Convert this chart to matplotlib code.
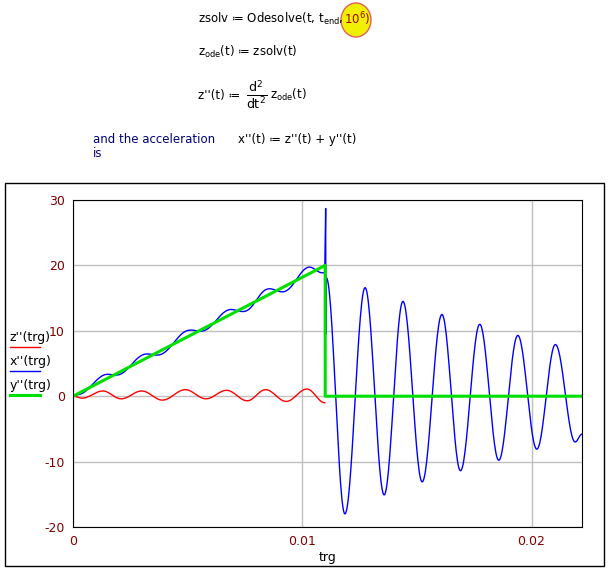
import numpy as np
import matplotlib.pyplot as plt
from matplotlib.patches import Rectangle, Ellipse

plt.rcParams["axes.unicode_minus"] = False

# --- values ---
# green y''(trg): ramp, drop, then zero
y_t = [0.0, 0.011, 0.011, 0.0222]
y_v = [0.0, 20.0, 0.0, 0.0]

# red z''(trg) extrema before the jump
z_t = [0.0, 0.0004, 0.0013, 0.0021, 0.0030, 0.0039, 0.0049, 0.0058,
       0.0067, 0.0076, 0.0084, 0.0093, 0.0102, 0.01098]
z_v = [0.0, -0.3, 0.8, -0.4, 0.8, -0.6, 1.0, -0.4, 0.9, -0.7, 1.0, -0.8, 1.1, -1.0]

# blue x''(trg) spike at the jump
spike_t = [0.01098, 0.01100, 0.01102, 0.01103, 0.01105]
spike_v = [19.0, 24.0, 28.7, 9.5, 18.1]

# blue x''(trg) extrema of the free oscillation
osc_t = [0.01105, 0.01186, 0.01274, 0.01357, 0.01439, 0.01523, 0.01609, 0.01690,
         0.01774, 0.01857, 0.01940, 0.02023, 0.02104, 0.02190, 0.0222]
osc_v = [18.1, -18.0, 16.6, -15.1, 14.5, -13.1, 12.5, -11.4,
         11.0, -9.8, 9.3, -8.1, 7.9, -7.0, -5.8]


def smooth(ts, vs, n=30):
    # half-cosine segments between the read extrema
    out_t, out_v = [], []
    for i in range(len(ts) - 1):
        s = np.linspace(0, 1, n, endpoint=False)
        out_t.extend(ts[i] + (ts[i + 1] - ts[i]) * s)
        out_v.extend(vs[i] + (vs[i + 1] - vs[i]) * (1 - np.cos(np.pi * s)) / 2)
    out_t.append(ts[-1]); out_v.append(vs[-1])
    return np.array(out_t), np.array(out_v)


zt, zv = smooth(z_t, z_v)
ramp = np.interp(zt, y_t[:2], y_v[:2])
ot, ov = smooth(osc_t, osc_v)
xt = np.concatenate([zt, spike_t, ot])
xv = np.concatenate([zv + ramp, spike_v, ov])

W, H = 608, 571
fig = plt.figure(figsize=(W / 100, H / 100), dpi=100)
px = lambda x: x / W
py = lambda y: 1 - y / H

ax = fig.add_axes([px(73), py(527), px(582) - px(73), py(200) - py(527)])
ax.plot(zt, zv, color="red", lw=1)
ax.plot(xt, xv, color="blue", lw=1)
ax.plot(y_t, y_v, color="#00e000", lw=2.2)
ax.set_xlim(0, 0.0222)
ax.set_ylim(-20, 30)
ax.set_xticks([0, 0.01, 0.02], ["0", "0.01", "0.02"])
ax.set_yticks([-20, -10, 0, 10, 20, 30])
ax.tick_params(length=0, labelsize=9, labelcolor="#800000", pad=6)
ax.grid(color="#c0c0c0", lw=1)
ax.set_axisbelow(True)
for s in ax.spines.values():
    s.set_color("black")
ax.set_xlabel("trg", fontsize=9, labelpad=2)

# outer frame of the plot region
fig.patches.append(Rectangle((px(5), py(566)), px(604) - px(5), py(183) - py(566),
                             transform=fig.transFigure, fill=False, lw=1, color="black"))

# legend on the left
for i, (lab, col, lw) in enumerate([("z''(trg)", "red", 1), ("x''(trg)", "blue", 1),
                                    ("y''(trg)", "#00e000", 2.2)]):
    yy = 338 + i * 24
    fig.text(px(10), py(yy), lab, fontsize=9, va="center")
    fig.add_artist(plt.Line2D([px(10), px(40)], [py(yy + 9), py(yy + 9)], color=col, lw=lw))

# worksheet text above
fs = 8.5
fig.text(px(198), py(19), "zsolv ≔ Odesolve(t, t$_{\\rm end}$,", fontsize=fs, va="center")
fig.patches.append(Ellipse((px(356), py(20)), px(30), 34 / H, transform=fig.transFigure,
                           facecolor="#f0f000", edgecolor="#e06060", lw=1, zorder=-1))
fig.text(px(344), py(19), "10$^{\\mathregular{6}}$)", fontsize=fs, va="center",
         color="#a00000")
fig.text(px(198), py(52), "z$_{\\rm ode}$(t) ≔ zsolv(t)", fontsize=fs, va="center")
fig.text(px(198), py(95), "z''(t) ≔", fontsize=fs, va="center")
fig.text(px(246), py(95), r"$\frac{\mathrm{d}^2}{\mathrm{dt}^2}$", fontsize=13, va="center")
fig.text(px(270), py(95), "z$_{\\rm ode}$(t)", fontsize=fs, va="center")
fig.text(px(93), py(147), "and the acceleration\nis", fontsize=fs, va="center",
         color="#000080", linespacing=1.1)
fig.text(px(238), py(140), "x''(t) ≔ z''(t) + y''(t)", fontsize=fs, va="center")

fig.savefig("out.png", dpi=100)
